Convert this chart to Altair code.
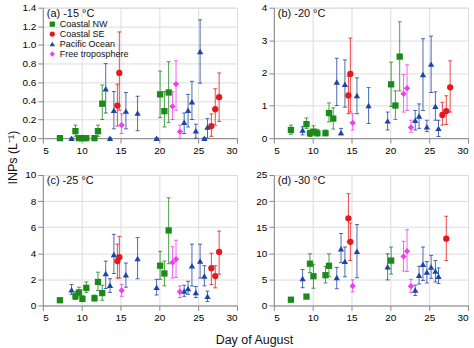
import altair as alt
import pandas as pd

SITES = ["Coastal NW", "Coastal SE", "Pacific Ocean", "Free troposphere"]
COLORS = ["#1b8a1b", "#e3191c", "#1d45a3", "#ee3fee"]
SHAPES = ["square", "circle", "triangle-up", "diamond"]

X_TICKS = [5, 10, 15, 20, 25, 30]

# Day of August per series
NW_DAYS = [7.2, 9.2, 9.65, 10.1, 10.6, 11.65, 12.1, 12.65, 20.1, 20.65, 21.2]
NW_DAYS_D = [7.2, 9.2, 9.65, 10.1, 11.65, 12.1, 20.1]
SE_DAYS = [14.6, 14.85, 26.7, 27.2, 27.7]
SE_DAYS_D = [14.6, 14.85, 27.2]
PO_DAYS = [8.7, 13.1, 13.65, 14.15, 15.7, 17.2, 19.65, 23.2, 23.7, 24.2, 24.7, 25.25, 25.8, 26.2]
PO_DAYS_D = [8.7, 13.1, 13.65, 14.15, 15.7, 19.65, 23.2, 23.7, 24.2, 24.7, 25.25, 25.8, 26.2]
FT_DAYS = [15.15, 21.7, 22.15, 22.65]

# (a) -15 C
A_NW = [0.0, 0.075, 0.0, 0.0, 0.0, 0.0, 0.075, 0.37, 0.47, 0.29, 0.49]
A_NW_LO = [0.0, 0.02, 0.0, 0.0, 0.0, 0.0, 0.02, 0.20, 0.22, 0.12, 0.17]
A_NW_HI = [0.0, 0.14, 0.0, 0.0, 0.0, 0.0, 0.14, 0.57, 0.72, 0.50, 0.82]
A_SE = [0.35, 0.70, 0.13, 0.31, 0.44]
A_SE_LO = [0.13, 0.30, 0.02, 0.14, 0.18]
A_SE_HI = [0.58, 1.14, 0.26, 0.53, 0.70]
A_PO = [0.0, 0.53, 0.0, 0.30, 0.29, 0.27, 0.0, 0.17, 0.30, 0.39, 0.08, 0.93, 0.0, 0.12]
A_PO_LO = [0.0, 0.27, 0.0, 0.10, 0.10, 0.08, 0.0, 0.05, 0.12, 0.20, 0.0, 0.59, 0.0, 0.0]
A_PO_HI = [0.0, 0.80, 0.0, 0.50, 0.49, 0.45, 0.0, 0.27, 0.47, 0.61, 0.15, 1.27, 0.0, 0.21]
A_FT = [0.14, 0.34, 0.58, 0.07]
A_FT_LO = [0.05, 0.20, 0.30, 0.0]
A_FT_HI = [0.26, 0.50, 0.83, 0.14]

# (b) -20 C
B_NW = [0.25, 0.43, 0.15, 0.20, 0.15, 0.15, 0.77, 0.60, 1.65, 1.0, 2.5]
B_NW_LO = [0.12, 0.30, 0.05, 0.10, 0.07, 0.10, 0.50, 0.28, 0.97, 0.57, 1.45]
B_NW_HI = [0.40, 0.62, 0.25, 0.38, 0.27, 0.25, 1.08, 0.93, 2.33, 1.45, 3.57]
B_SE = [1.31, 1.97, 0.71, 0.83, 1.56]
B_SE_LO = [0.75, 0.80, 0.40, 0.42, 0.80]
B_SE_HI = [1.90, 3.07, 1.10, 1.30, 2.37]
B_PO = [0.25, 1.72, 0.17, 1.65, 1.31, 1.0, 0.53, 0.55, 0.68, 1.95, 0.35, 2.27, 0.98, 0.30]
B_PO_LO = [0.10, 1.0, 0.10, 0.95, 0.75, 0.45, 0.25, 0.25, 0.30, 0.85, 0.20, 1.40, 0.55, 0.05]
B_PO_HI = [0.35, 2.45, 0.30, 2.40, 1.85, 1.55, 0.80, 0.85, 1.05, 3.05, 0.55, 3.13, 1.42, 0.55]
B_FT = [0.47, 1.36, 1.53, 0.33]
B_FT_LO = [0.25, 0.80, 0.85, 0.18]
B_FT_HI = [0.75, 1.95, 2.25, 0.55]

# (c) -25 C
C_NW = [0.4, 0.7, 1.0, 0.5, 1.35, 0.55, 1.8, 0.95, 3.05, 2.45, 5.75]
C_NW_LO = [0.3, 0.45, 0.75, 0.3, 1.0, 0.35, 1.15, 0.4, 2.0, 1.5, 3.2]
C_NW_HI = [0.5, 1.05, 1.4, 0.75, 1.8, 0.8, 2.55, 1.55, 4.15, 3.4, 8.25]
C_SE = [3.4, 3.7, 2.85, 2.25, 4.1]
C_SE_LO = [2.1, 2.1, 1.6, 1.35, 2.4]
C_SE_HI = [4.7, 5.3, 4.0, 3.05, 5.7]
C_PO = [1.2, 2.45, 1.55, 3.9, 2.35, 3.6, 1.4, 1.1, 1.3, 3.05, 1.0, 3.4, 2.25, 0.7]
C_PO_LO = [0.85, 1.3, 1.0, 2.45, 1.4, 2.05, 0.8, 0.7, 0.85, 1.5, 0.6, 2.1, 1.5, 0.3]
C_PO_HI = [1.6, 3.4, 2.05, 5.45, 3.25, 5.2, 2.0, 1.55, 1.85, 4.7, 1.45, 4.7, 3.05, 1.1]
C_FT = [1.15, 3.3, 3.55, 1.05]
C_FT_LO = [0.7, 2.1, 2.15, 0.6]
C_FT_HI = [1.6, 4.5, 5.0, 1.5]

# (d) -30 C
D_NW = [1.1, 1.7, 8.0, 5.6, 5.8, 7.6, 8.6]
D_NW_LO = [1.0, 1.5, 6.3, 3.3, 4.3, 5.5, 6.0]
D_NW_HI = [1.2, 1.9, 9.9, 7.9, 7.5, 9.9, 11.2]
D_SE = [16.7, 12.2, 12.8]
D_SE_LO = [12.2, 8.6, 8.6]
D_SE_HI = [21.4, 15.8, 17.1]
D_PO = [5.15, 5.35, 10.85, 8.45, 10.4, 7.4, 2.95, 5.8, 7.9, 6.4, 7.35, 6.6, 5.6]
D_PO_LO = [3.4, 3.2, 8.2, 5.5, 5.3, 4.9, 1.9, 4.1, 4.8, 4.3, 5.2, 4.5, 4.2]
D_PO_HI = [6.9, 7.3, 13.8, 11.2, 15.5, 9.9, 3.9, 7.5, 11.2, 8.4, 9.6, 8.6, 7.2]
D_FT = [3.75, 9.4, 10.4, 3.7]
D_FT_LO = [2.6, 6.6, 6.5, 2.5]
D_FT_HI = [4.9, 12.3, 14.5, 5.0]

FONT = "Liberation Sans"


def frame(parts):
    rows = []
    for site, days, vals, lo, hi in parts:
        for d, v, l, h in zip(days, vals, lo, hi):
            rows.append({"site": site, "day": d, "val": v, "lo": l, "hi": h})
    return pd.DataFrame(rows)


COLOR_SCALE = alt.Scale(domain=SITES, range=COLORS)
SHAPE_SCALE = alt.Scale(domain=SITES, range=SHAPES)
# same mapping listed in another order, so the hidden error-bar legends stay apart
BAR_SCALE = alt.Scale(domain=SITES[::-1], range=COLORS[::-1])
LEGEND = alt.Legend(title=None, orient="none", legendX=5, legendY=12,
                    labelFontSize=9, labelFont=FONT, symbolSize=28,
                    rowPadding=0, labelOffset=3, labelColor="#111", labelLimit=120)


def panel(df, label, ymax, yticks, fmt, legend, ytitle=None, xtitle=None):
    if xtitle:
        xaxis = alt.Axis(values=X_TICKS, format="d", title=xtitle, titleX=212, titleY=34,
                         titleAlign="center", titleBaseline="middle", titleFontSize=12.5,
                         titleFontWeight="normal", titleFont=FONT, titleColor="#111")
    else:
        xaxis = alt.Axis(values=X_TICKS, format="d", title=None)
    if ytitle:
        yaxis = alt.Axis(values=yticks, format=fmt, title=ytitle, titleX=-30, titleY=150,
                         titleAngle=270, titleAlign="center", titleBaseline="middle",
                         titleFontSize=12.5, titleFontWeight="normal", titleFont=FONT,
                         titleColor="#111")
    else:
        yaxis = alt.Axis(values=yticks, format=fmt, title=None)
    x = alt.X("day:Q", scale=alt.Scale(domain=[5, 30], nice=False), axis=xaxis)
    base = alt.Chart(df)
    ysc = alt.Scale(domain=[0, ymax], nice=False)
    rule = base.mark_rule(strokeWidth=1, opacity=0.8).encode(
        x=x,
        y=alt.Y("lo:Q", scale=ysc, axis=yaxis),
        y2="hi:Q",
        stroke=alt.Stroke("site:N", scale=BAR_SCALE, legend=None),
    )
    cap_lo = base.mark_tick(orient="horizontal", size=4, thickness=1, opacity=0.8).encode(
        x=x, y=alt.Y("lo:Q", scale=ysc, axis=yaxis),
        fill=alt.Fill("site:N", scale=BAR_SCALE, legend=None),
    )
    cap_hi = base.mark_tick(orient="horizontal", size=4, thickness=1, opacity=0.8).encode(
        x=x, y=alt.Y("hi:Q", scale=ysc, axis=yaxis),
        fill=alt.Fill("site:N", scale=BAR_SCALE, legend=None),
    )
    if legend:
        color = alt.Color("site:N", scale=COLOR_SCALE, legend=LEGEND)
        shape = alt.Shape("site:N", scale=SHAPE_SCALE, legend=LEGEND)
    else:
        color = alt.Color("site:N", scale=COLOR_SCALE, legend=None)
        shape = alt.Shape("site:N", scale=SHAPE_SCALE, legend=None)
    pts = base.mark_point(filled=True, size=40, opacity=1).encode(
        x=x,
        y=alt.Y("val:Q", scale=ysc, axis=yaxis),
        color=color,
        shape=shape,
    )
    txt = alt.Chart(pd.DataFrame({"t": [label]})).mark_text(
        align="left", baseline="middle", fontSize=11, font=FONT, color="#111"
    ).encode(x=alt.value(4), y=alt.value(6.5), text="t:N")
    return alt.layer(rule, cap_lo, cap_hi, pts, txt).properties(width=195, height=131)


df_a = frame([
    ("Coastal NW", NW_DAYS, A_NW, A_NW_LO, A_NW_HI),
    ("Coastal SE", SE_DAYS, A_SE, A_SE_LO, A_SE_HI),
    ("Pacific Ocean", PO_DAYS, A_PO, A_PO_LO, A_PO_HI),
    ("Free troposphere", FT_DAYS, A_FT, A_FT_LO, A_FT_HI),
])
df_b = frame([
    ("Coastal NW", NW_DAYS, B_NW, B_NW_LO, B_NW_HI),
    ("Coastal SE", SE_DAYS, B_SE, B_SE_LO, B_SE_HI),
    ("Pacific Ocean", PO_DAYS, B_PO, B_PO_LO, B_PO_HI),
    ("Free troposphere", FT_DAYS, B_FT, B_FT_LO, B_FT_HI),
])
df_c = frame([
    ("Coastal NW", NW_DAYS, C_NW, C_NW_LO, C_NW_HI),
    ("Coastal SE", SE_DAYS, C_SE, C_SE_LO, C_SE_HI),
    ("Pacific Ocean", PO_DAYS, C_PO, C_PO_LO, C_PO_HI),
    ("Free troposphere", FT_DAYS, C_FT, C_FT_LO, C_FT_HI),
])
df_d = frame([
    ("Coastal NW", NW_DAYS_D, D_NW, D_NW_LO, D_NW_HI),
    ("Coastal SE", SE_DAYS_D, D_SE, D_SE_LO, D_SE_HI),
    ("Pacific Ocean", PO_DAYS_D, D_PO, D_PO_LO, D_PO_HI),
    ("Free troposphere", FT_DAYS, D_FT, D_FT_LO, D_FT_HI),
])

pa = panel(df_a, "(a) -15 °C", 1.4, [0, 0.2, 0.4, 0.6, 0.8, 1.0, 1.2, 1.4], ".1f", True,
           ytitle="INPs (L⁻¹)")
pb = panel(df_b, "(b) -20 °C", 4, [0, 1, 2, 3, 4], "d", False)
pc = panel(df_c, "(c) -25 °C", 10, [0, 2, 4, 6, 8, 10], "d", False, xtitle="Day of August")
pd_ = panel(df_d, "(d) -30 °C", 25, [0, 5, 10, 15, 20, 25], "d", False)

chart = alt.concat(pa, pb, pc, pd_, columns=2, spacing=37, bounds="flush").resolve_scale(
    color="independent", shape="independent", fill="independent", stroke="independent"
).properties(
    padding={"left": 6, "top": 1, "right": 5, "bottom": 2}
).configure_axis(
    labelFont=FONT, labelFontSize=10.5, labelColor="#222", tickColor="#777",
    domainColor="#777", tickSize=4, grid=False, labelPadding=2
).configure_view(
    stroke="#888", strokeWidth=1
).configure(background="white")

chart.save("out.html", embed_options={"renderer": "svg", "actions": False})
